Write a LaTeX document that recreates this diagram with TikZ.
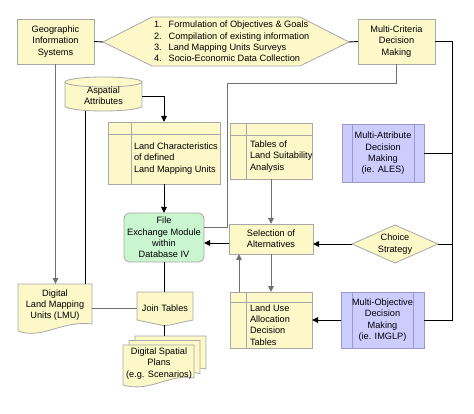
\documentclass[tikz,border=0pt]{standalone}
\usepackage{fontspec}
\setmainfont{Liberation Sans}
\usetikzlibrary{arrows.meta,shapes.geometric}
\definecolor{yel}{HTML}{FCF8C8}
\definecolor{bord}{HTML}{A8A8A8}
\definecolor{pur}{HTML}{CCCCFF}
\definecolor{purb}{HTML}{9A9AC8}
\definecolor{grn}{HTML}{C9F5CF}
\definecolor{ln}{HTML}{707070}
\begin{document}
\begin{tikzpicture}[x=1pt,y=-1pt,
  every node/.style={font=\fontsize{9.2}{11.3}\selectfont, inner sep=0pt, outer sep=0pt},
  ybox/.style={draw=bord, fill=yel, line width=0.8pt, align=center},
  pbox/.style={draw=purb, fill=pur, line width=0.8pt, align=center},
  inner/.style={draw=bord, line width=0.8pt},
  pinner/.style={draw=purb, line width=0.8pt},
  blk/.style={draw=black, line width=0.9pt},
  gry/.style={draw=ln, line width=0.9pt},
  arr/.style={-{Triangle[length=6pt,width=5.5pt]}},
  ltxt/.style={align=left, anchor=west},
]
\useasboundingbox (0,0) rectangle (474,414);

% Geographic Information Systems
\node[ybox, minimum width=77, minimum height=45] (gis) at (55.5,41.5) {Geographic\\Information\\Systems};

% objectives hexagon
\draw[fill=yel, draw=bord, line width=0.8pt] (103,42) -- (152,17) -- (300,17) -- (349,42) -- (300,66) -- (152,66) -- cycle;
\coordinate (hexL) at (103,42);
\coordinate (hexR) at (349,42);
\node[ltxt] (obj) at (154,41.5) {1.\hspace{7pt}Formulation of Objectives \& Goals\\2.\hspace{7pt}Compilation of existing information\\3.\hspace{7pt}Land Mapping Units Surveys\\4.\hspace{7pt}Socio-Economic Data Collection};

% MCDM
\node[ybox, minimum width=77, minimum height=45] (mcdm) at (396.5,41.5) {Multi-Criteria\\Decision\\Making};

% Aspatial attributes cylinder
\path[fill=yel, draw=bord, line width=0.8pt] (65,82) -- (65,106) arc[start angle=180, end angle=360, x radius=38.5pt, y radius=5pt] -- (142,82) arc[start angle=0, end angle=180, x radius=38.5pt, y radius=5pt] -- cycle;
\draw[inner] (65,82) arc[start angle=180, end angle=360, x radius=38.5pt, y radius=5pt];
\node[minimum width=77, minimum height=30, align=center] (asp) at (103.5,96) {Aspatial\\Attributes};

% Land characteristics
\node[ybox, minimum width=112, minimum height=62] (lc) at (164,153) {};
\draw[inner] (131,122) -- (131,184) (108,134) -- (220,134);
\node[ltxt] (lct) at (134,158.5) {Land Characteristics\\of defined\\Land Mapping Units};

% Tables of land suitability
\node[ybox, minimum width=82, minimum height=56] (tls) at (271,151) {};
\draw[inner] (246,123) -- (246,179) (230,135) -- (312,135);
\node[ltxt] (tlst) at (250,156.5) {Tables of\\Land Suitability\\Analysis};

% Multi-attribute
\node[pbox, minimum width=82, minimum height=58] (madm) at (383,153) {};
\draw[pinner] (352,124) -- (352,182) (414,124) -- (414,182);
\node[align=center] (madmt) at (383,153.5) {Multi-Attribute\\Decision\\Making\\(ie. ALES)};

% File exchange module
\node[draw=bord, fill=grn, line width=0.8pt, rounded corners=6pt, minimum width=80, minimum height=49, align=center] (fem) at (164,237.5) {File\\Exchange Module\\within\\Database IV};

% Selection of alternatives
\node[ybox, minimum width=84, minimum height=30] (sel) at (271,239) {Selection of\\Alternatives};

% Choice strategy
\node[diamond, draw=bord, fill=yel, line width=0.8pt, minimum width=86, minimum height=38, aspect=2.26, align=center] (cs) at (395,244) {Choice\\Strategy};

% Digital land mapping units (document)
\draw[fill=yel, draw=bord, line width=0.8pt] (18,284) -- (92,284) -- (92,324) .. controls (62,320) and (42,340) .. (18,331) -- cycle;
\node[minimum width=74, minimum height=42, align=center] (dlmu) at (55,305) {Digital\\Land Mapping\\Units (LMU)};

% Join tables
\draw[fill=yel, draw=bord, line width=0.8pt] (137,292) -- (193,292) -- (193,320) -- (165,326) -- (137,320) -- cycle;
\node[minimum width=56, minimum height=32] (jt) at (165,308) {Join Tables};

% Digital spatial plans (multi-document)
\foreach \dx/\dy in {12/-9, 6/-4.5, 0/0}{
  \draw[fill=yel, draw=bord, line width=0.8pt, shift={(\dx,\dy)}] (123,345) -- (194,345) -- (194,378) .. controls (170,373) and (150,393) .. (123,385) -- cycle;
}
\node[minimum width=71, minimum height=44, align=center] (dsp) at (159,363.5) {Digital Spatial\\Plans\\(e.g. Scenarios)};
\coordinate (dspTop) at (164,336);

% Land use allocation decision tables
\node[ybox, minimum width=82, minimum height=56] (lu) at (271,320) {};
\draw[inner] (246,292) -- (246,348) (230,302) -- (312,302);
\node[ltxt] (lut) at (250,325) {Land Use\\Allocation\\Decision\\Tables};

% Multi-objective
\node[pbox, minimum width=83, minimum height=56] (modm) at (382.5,320) {};
\draw[pinner] (352,292) -- (352,348) (413,292) -- (413,348);
\node[align=center] (modmt) at (382.5,320) {Multi-Objective\\Decision\\Making\\(ie. IMGLP)};

% ---------- connectors ----------
\draw[blk] (gis.east) -- (hexL);
\draw[blk] (hexR) -- (mcdm.west);
\coordinate (busBot) at (452,320);
\draw[blk] (mcdm.east) -| (busBot) -- (modm.east);
\draw[blk] (madm.east) -- (madm.east -| busBot);
\draw[blk] (cs.east) -- (cs.east -| busBot);
\coordinate (mc1) at (227,83);
\draw[gry] (mcdm.south) |- (mc1) |- ([yshift=10.5pt]fem.east);
\draw[blk,arr] (asp.east) -| (lc.north);
\draw[blk] ([xshift=20pt]asp.south west) -- ([xshift=20pt]asp.south west |- dlmu.north);
\draw[gry,arr] (gis.south) -- (gis.south |- dlmu.north);
\draw[blk,arr] (lc.south) -- (fem.north);
\draw[blk,arr] ([yshift=-4pt]sel.west) -- ([yshift=-5.5pt]fem.east);
\draw[gry,arr] (tls.south) -- (sel.north);
\draw[blk,arr] (cs.west) -- (cs.west -| sel.east);
\draw[gry,arr] (sel.south) -- (lu.north);
\draw[gry,arr] ([xshift=-32pt]lu.north) -- ([xshift=-32pt]sel.south);
\draw[blk,arr] (modm.west) -- (lu.east);
\draw[blk] (fem.south) -- (fem.south |- jt.north);
\draw[gry, line width=0.7pt] (dlmu.east |- jt.west) -- (jt.west);
\draw[blk] (fem.south |- 0,325) -- (dspTop);
\end{tikzpicture}
\end{document}
